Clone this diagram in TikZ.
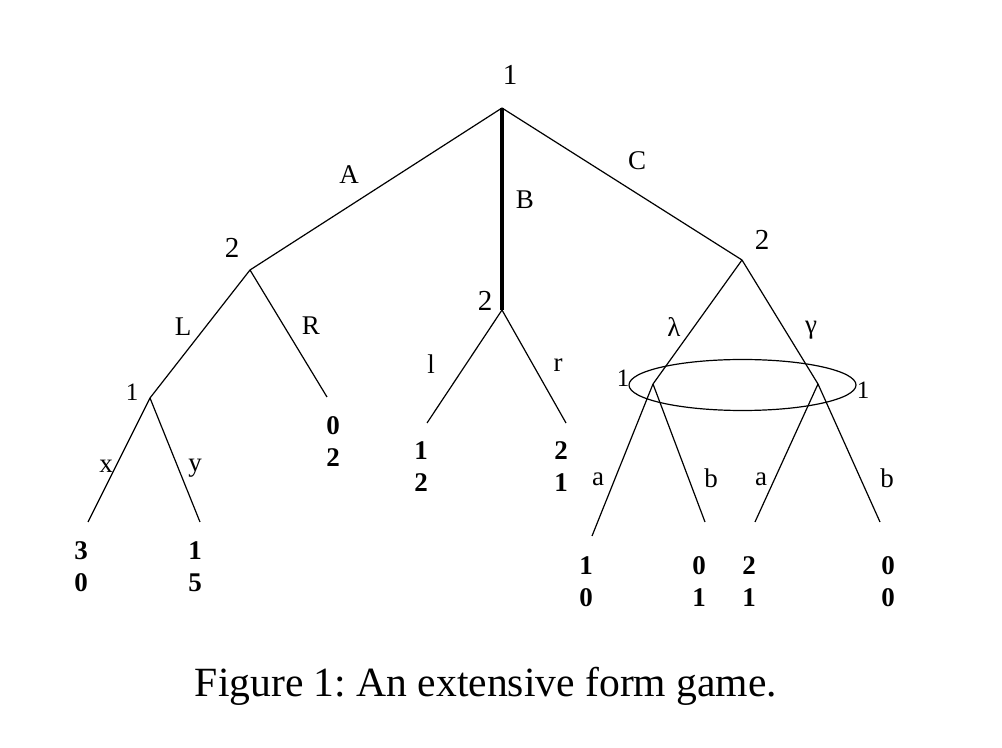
\documentclass[tikz,border=0pt]{standalone}
\usepackage{fontspec}
\setmainfont{Liberation Serif}

\begin{document}
\begin{tikzpicture}[x=0.5pt, y=-0.5pt,
			branch/.style={line width=0.6pt},
			bigplayer/.style={inner sep=0pt, font=\fontsize{14.5}{16}\selectfont},
			player/.style={inner sep=0pt, font=\fontsize{12.5}{14}\selectfont},
			move/.style={inner sep=0pt, font=\fontsize{13.5}{15}\selectfont},
			payoff/.style={inner sep=0pt, align=center, font=\fontsize{13.5}{16}\selectfont\bfseries}]
			\useasboundingbox (0,0) rectangle (1002,748);
			% decision points
			\coordinate (root) at (502,108);
			\coordinate (nodeA) at (250,270);
			\coordinate (nodeB) at (502,310);
			\coordinate (nodeC) at (742,260);
			\coordinate (nodeL) at (150,398);
			\coordinate (infoL) at (653,384);
			\coordinate (infoR) at (818,384);
			\coordinate (info) at (742.5,385);
			% ends of the last branches
			\coordinate (endR) at (327,397);
			\coordinate (endx) at (88,522);
			\coordinate (endy) at (200,522);
			\coordinate (endl) at (427,423);
			\coordinate (endr) at (566,423);
			\coordinate (endLa) at (592,536);
			\coordinate (endLb) at (705,522);
			\coordinate (endRa) at (755,522);
			\coordinate (endRb) at (880,522);
			% players
			\node[bigplayer] (proot) at (510,75) {1};
			\node[bigplayer] (pA) at (232,248) {2};
			\node[bigplayer] (pB) at (485,301) {2};
			\node[bigplayer] (pC) at (762,240) {2};
			\node[player] (pL) at (132,392) {1};
			\node[player] (pinfoL) at (623,378) {1};
			\node[player] (pinfoR) at (863,390) {1};
			% moves
			\node[move] (mA) at (349,175) {A};
			\node[move] (mB) at (525,200) {B};
			\node[move] (mC) at (637,161) {C};
			\node[move] (mL) at (183,327) {L};
			\node[move] (mR) at (311,326) {R};
			\node[move] (ml) at (431,364) {l};
			\node[move] (mr) at (558,365) {r};
			\node[move] (mx) at (106,466) {x};
			\node[move] (my) at (195,468) {y};
			\node[move] (mlambda) at (674,327) {λ};
			\node[move] (mgamma) at (811,330) {γ};
			\node[move] (mLa) at (598,479) {a};
			\node[move] (mLb) at (711,478) {b};
			\node[move] (mRa) at (761,479) {a};
			\node[move] (mRb) at (887,478) {b};
			% payoffs
			\node[payoff] (ux) at (81,567) {3\\0};
			\node[payoff] (uy) at (195,567) {1\\5};
			\node[payoff] (uR) at (333,442) {0\\2};
			\node[payoff] (ul) at (421,467) {1\\2};
			\node[payoff] (ur) at (561,467) {2\\1};
			\node[payoff] (uLa) at (586,582) {1\\0};
			\node[payoff] (uLb) at (699,582) {0\\1};
			\node[payoff] (uRa) at (749,582) {2\\1};
			\node[payoff] (uRb) at (888,582) {0\\0};
			\node[anchor=base, font=\fontsize{20.8}{24}\selectfont] (caption) at (486,697) {Figure 1:\ An extensive form game.};
			\begin{scope}[branch]
				\draw (root) -- (nodeA);
				\draw (root) -- (nodeC);
				\draw[line width=1.6pt] (root) -- (nodeB);
				\draw (nodeA) -- (nodeL);
				\draw (nodeA) -- (endR);
				\draw (nodeL) -- (endx);
				\draw (nodeL) -- (endy);
				\draw (nodeB) -- (endl);
				\draw (nodeB) -- (endr);
				\draw (nodeC) -- (infoL);
				\draw (nodeC) -- (infoR);
				\draw (infoL) -- (endLa);
				\draw (infoL) -- (endLb);
				\draw (infoR) -- (endRa);
				\draw (infoR) -- (endRb);
				\draw (info) ellipse (113.5 and 25.5);
			\end{scope}
		\end{tikzpicture}
\end{document}
